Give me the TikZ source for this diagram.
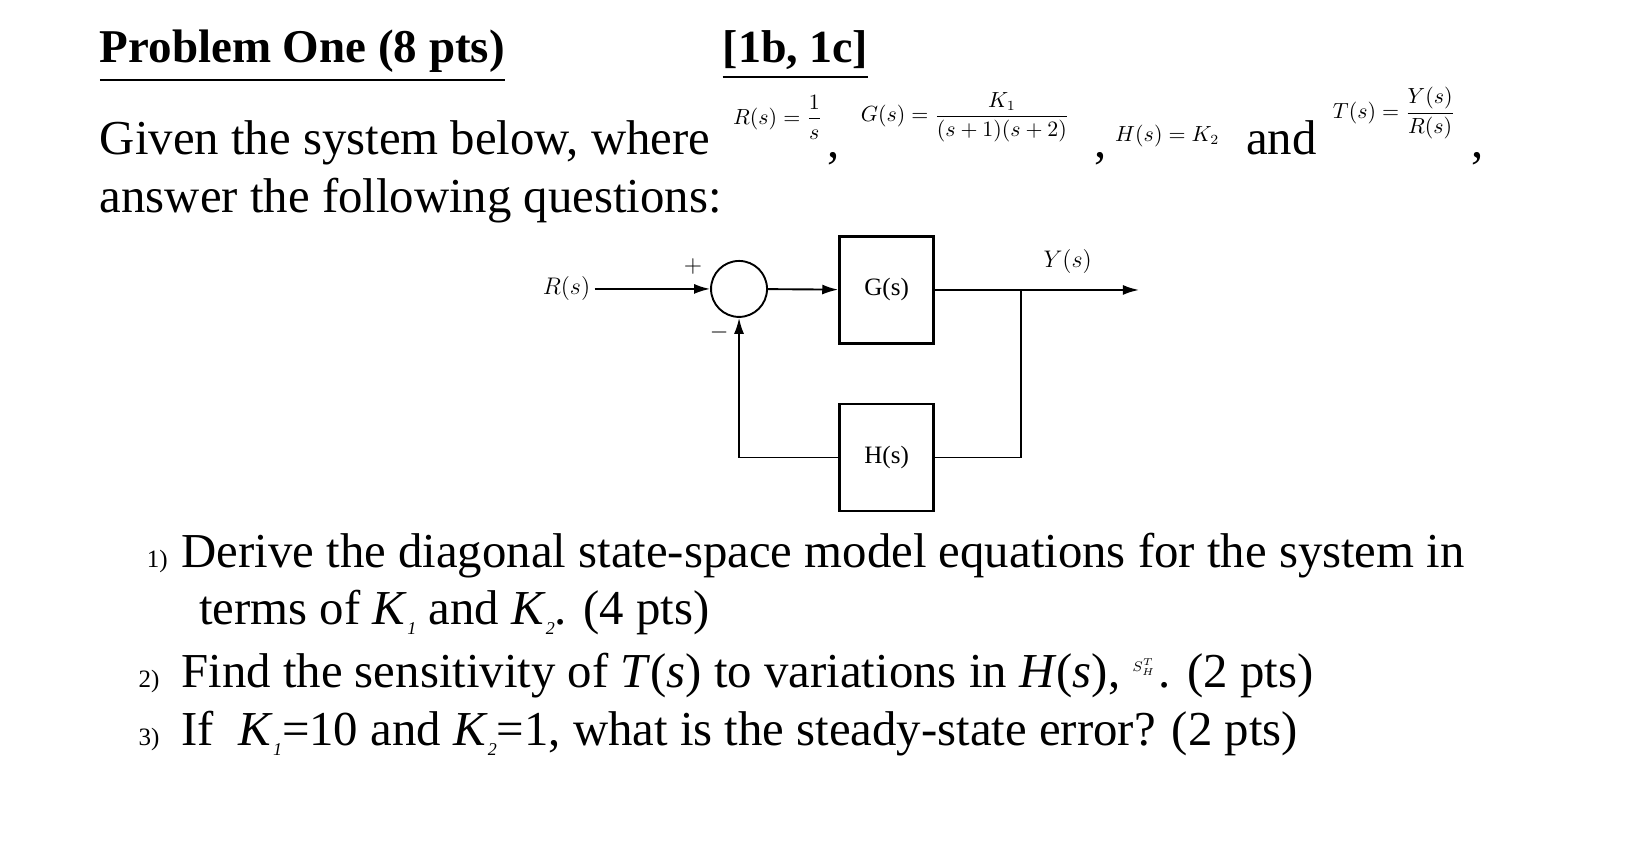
\documentclass[tikz,border=0pt]{standalone}
\usepackage{fontspec}
\setmainfont{Liberation Serif}
\usepackage{amsmath}
\usetikzlibrary{arrows.meta}
\begin{document}
\begin{tikzpicture}[x=0.5235pt,y=-0.5235pt,
  blk/.style={draw,line width=1.4pt,minimum width=47pt,minimum height=53.5pt,font=\fontsize{12.5}{14}\selectfont},
  ln/.style={line width=0.95pt},
  arr/.style={ln,-{Latex[length=8pt,width=5pt]}},
  big/.style={font=\fontsize{24.4}{28}\selectfont,anchor=base west,inner sep=0},
  sm/.style={font=\fontsize{10.5}{12}\selectfont,inner sep=0}]
\useasboundingbox (0,0) rectangle (1560,820.6);
\node[anchor=base west,inner sep=0,font=\fontsize{23.5}{26}\selectfont\bfseries] (t1) at (95,60) {\underline{Problem One (8 pts)}};
\node[anchor=base west,inner sep=0,font=\fontsize{23}{26}\selectfont\bfseries] (t2) at (690,60) {\underline{[1b, 1c]}};
\node[big] (g1) at (95,148) {Given the system below, where};
\node[big] (g2) at (95,203) {answer the following questions:};
\node[sm,anchor=west] (f1) at (700,112) {$R(s)=\dfrac{1}{s}$};
\node[big] (c1) at (790,150) {,};
\node[sm,anchor=west] (f2) at (822,112) {$G(s)=\dfrac{K_1}{(s+1)(s+2)}$};
\node[big] (c2) at (1045,150) {,};
\node[sm,anchor=west] (f3) at (1065,130) {$H(s)=K_2$};
\node[big] (and) at (1190,148) {and};
\node[sm,anchor=west] (f4) at (1273,108) {$T(s)=\dfrac{Y(s)}{R(s)}$};
\node[big] (c3) at (1405,150) {,};
% block diagram
\node[font=\fontsize{13}{15}\selectfont,anchor=east,inner sep=2pt] (R) at (568,276) {$R(s)$};
\node[draw,circle,ln,minimum size=28pt,inner sep=0] (sum) at (706,276) {};
\node[blk] (G) at (847,277) {G(s)};
\node[blk] (H) at (847,437) {H(s)};
\coordinate (br) at (975,277);
\coordinate (out) at (1088,277);
\coordinate (hb) at (975,437);
\coordinate (fb) at (706,437);
\draw[arr] (R) -- (sum);
\draw[arr] (sum) -- (G);
\draw[arr] (G) -- (out);
\draw[ln] (br) -- (hb) -- (H);
\draw[arr] (H) -- (fb) -- (sum);
\node[font=\fontsize{13}{15}\selectfont] (Y) at (1020,250) {$Y(s)$};
\node[font=\fontsize{11.5}{12}\selectfont] (p) at (662,255) {$+$};
\node[font=\fontsize{11.5}{12}\selectfont] (m) at (687,318) {$-$};
% questions
\node[anchor=base west,inner sep=0,font=\fontsize{12.5}{14}\selectfont] (n1) at (140,542) {1)};
\node[big] (q1) at (173,542) {Derive the diagonal state-space model equations for the system in};
\node[big] (q1b) at (190,597) {terms of \textit{K}\raisebox{-5pt}{\fontsize{9}{9}\selectfont\textit{1}} and \textit{K}\raisebox{-5pt}{\fontsize{9}{9}\selectfont\textit{2}}. (4 pts)};
\node[anchor=base west,inner sep=0,font=\fontsize{12.5}{14}\selectfont] (n2) at (132,657) {2)};
\node[big] (q2) at (173,657) {Find the sensitivity of \textit{T}(\textit{s}) to variations in \textit{H}(\textit{s}),\hspace{6pt}\raisebox{8pt}{\fontsize{7}{7}\selectfont$S_H^T$}\hspace{2pt}. (2 pts)};
\node[anchor=base west,inner sep=0,font=\fontsize{12.5}{14}\selectfont] (n3) at (132,712) {3)};
\node[big] (q3) at (173,712) {If \ \textit{K}\raisebox{-5pt}{\fontsize{9}{9}\selectfont\textit{1}}=10 and \textit{K}\raisebox{-5pt}{\fontsize{9}{9}\selectfont\textit{2}}=1, what is the steady-state error? (2 pts)};
\end{tikzpicture}
\end{document}
